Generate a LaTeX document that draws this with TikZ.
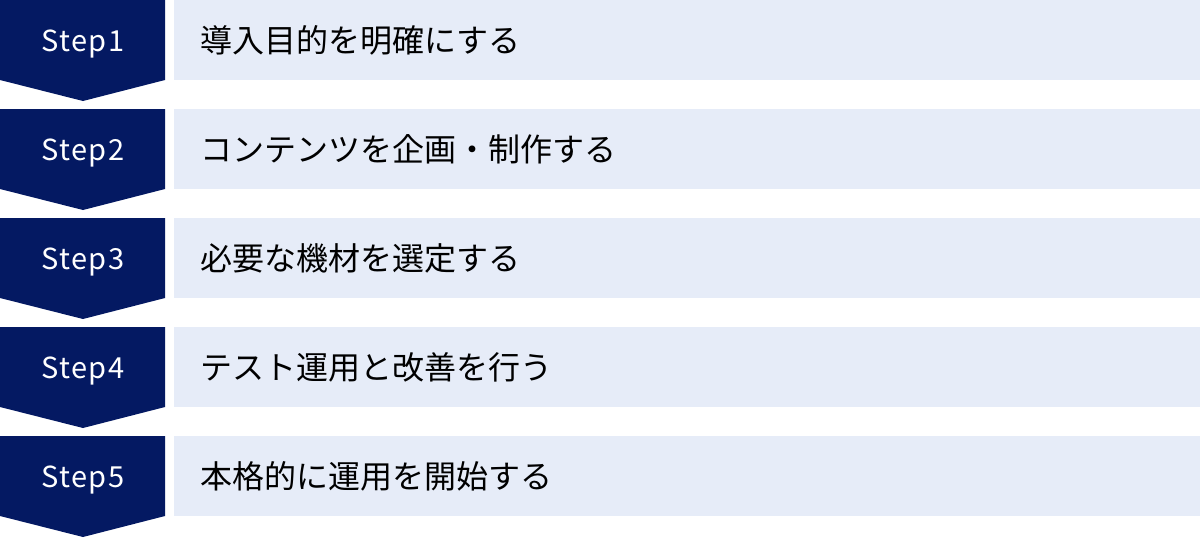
\documentclass[tikz,border=0pt]{standalone}
\usepackage{fontspec}
\setmainfont{Noto Sans CJK JP}
\newfontfamily\cjk{Noto Sans CJK JP}
\newfontfamily\steplat[LetterSpace=5]{Noto Sans CJK JP}
\definecolor{navy}{RGB}{4,25,98}
\definecolor{lightbg}{RGB}{230,236,248}
\begin{document}
\begin{tikzpicture}[x=1pt,y=-1pt,
  stepmark/.style={fill=navy, draw=none},
  stepbar/.style={fill=lightbg, draw=none},
  steplabel/.style={text=white, font=\steplat\fontsize{29}{32}\selectfont, anchor=base, inner sep=0pt},
  steptext/.style={text=black, font=\cjk\fontsize{32}{36}\selectfont, anchor=west, inner sep=0pt}]
\useasboundingbox (0,0) rectangle (1200,538);
\foreach \i/\t in {1/導入目的を明確にする,2/コンテンツを企画・制作する,3/必要な機材を選定する,4/テスト運用と改善を行う,5/本格的に運用を開始する}{
  \pgfmathsetmacro{\y}{(\i-1)*109}
  \fill[stepmark] (0,\y) -- (165,\y) -- (165,\y+80) -- (83,\y+101) -- (0,\y+80) -- cycle;
  \fill[stepbar] (174,\y) rectangle (1200,\y+80);
  \node[steplabel] (s\i) at (83,\y+51.5) {Step\i};
  \node[steptext] (t\i) at (200,\y+40) {\t};
}
\end{tikzpicture}
\end{document}
